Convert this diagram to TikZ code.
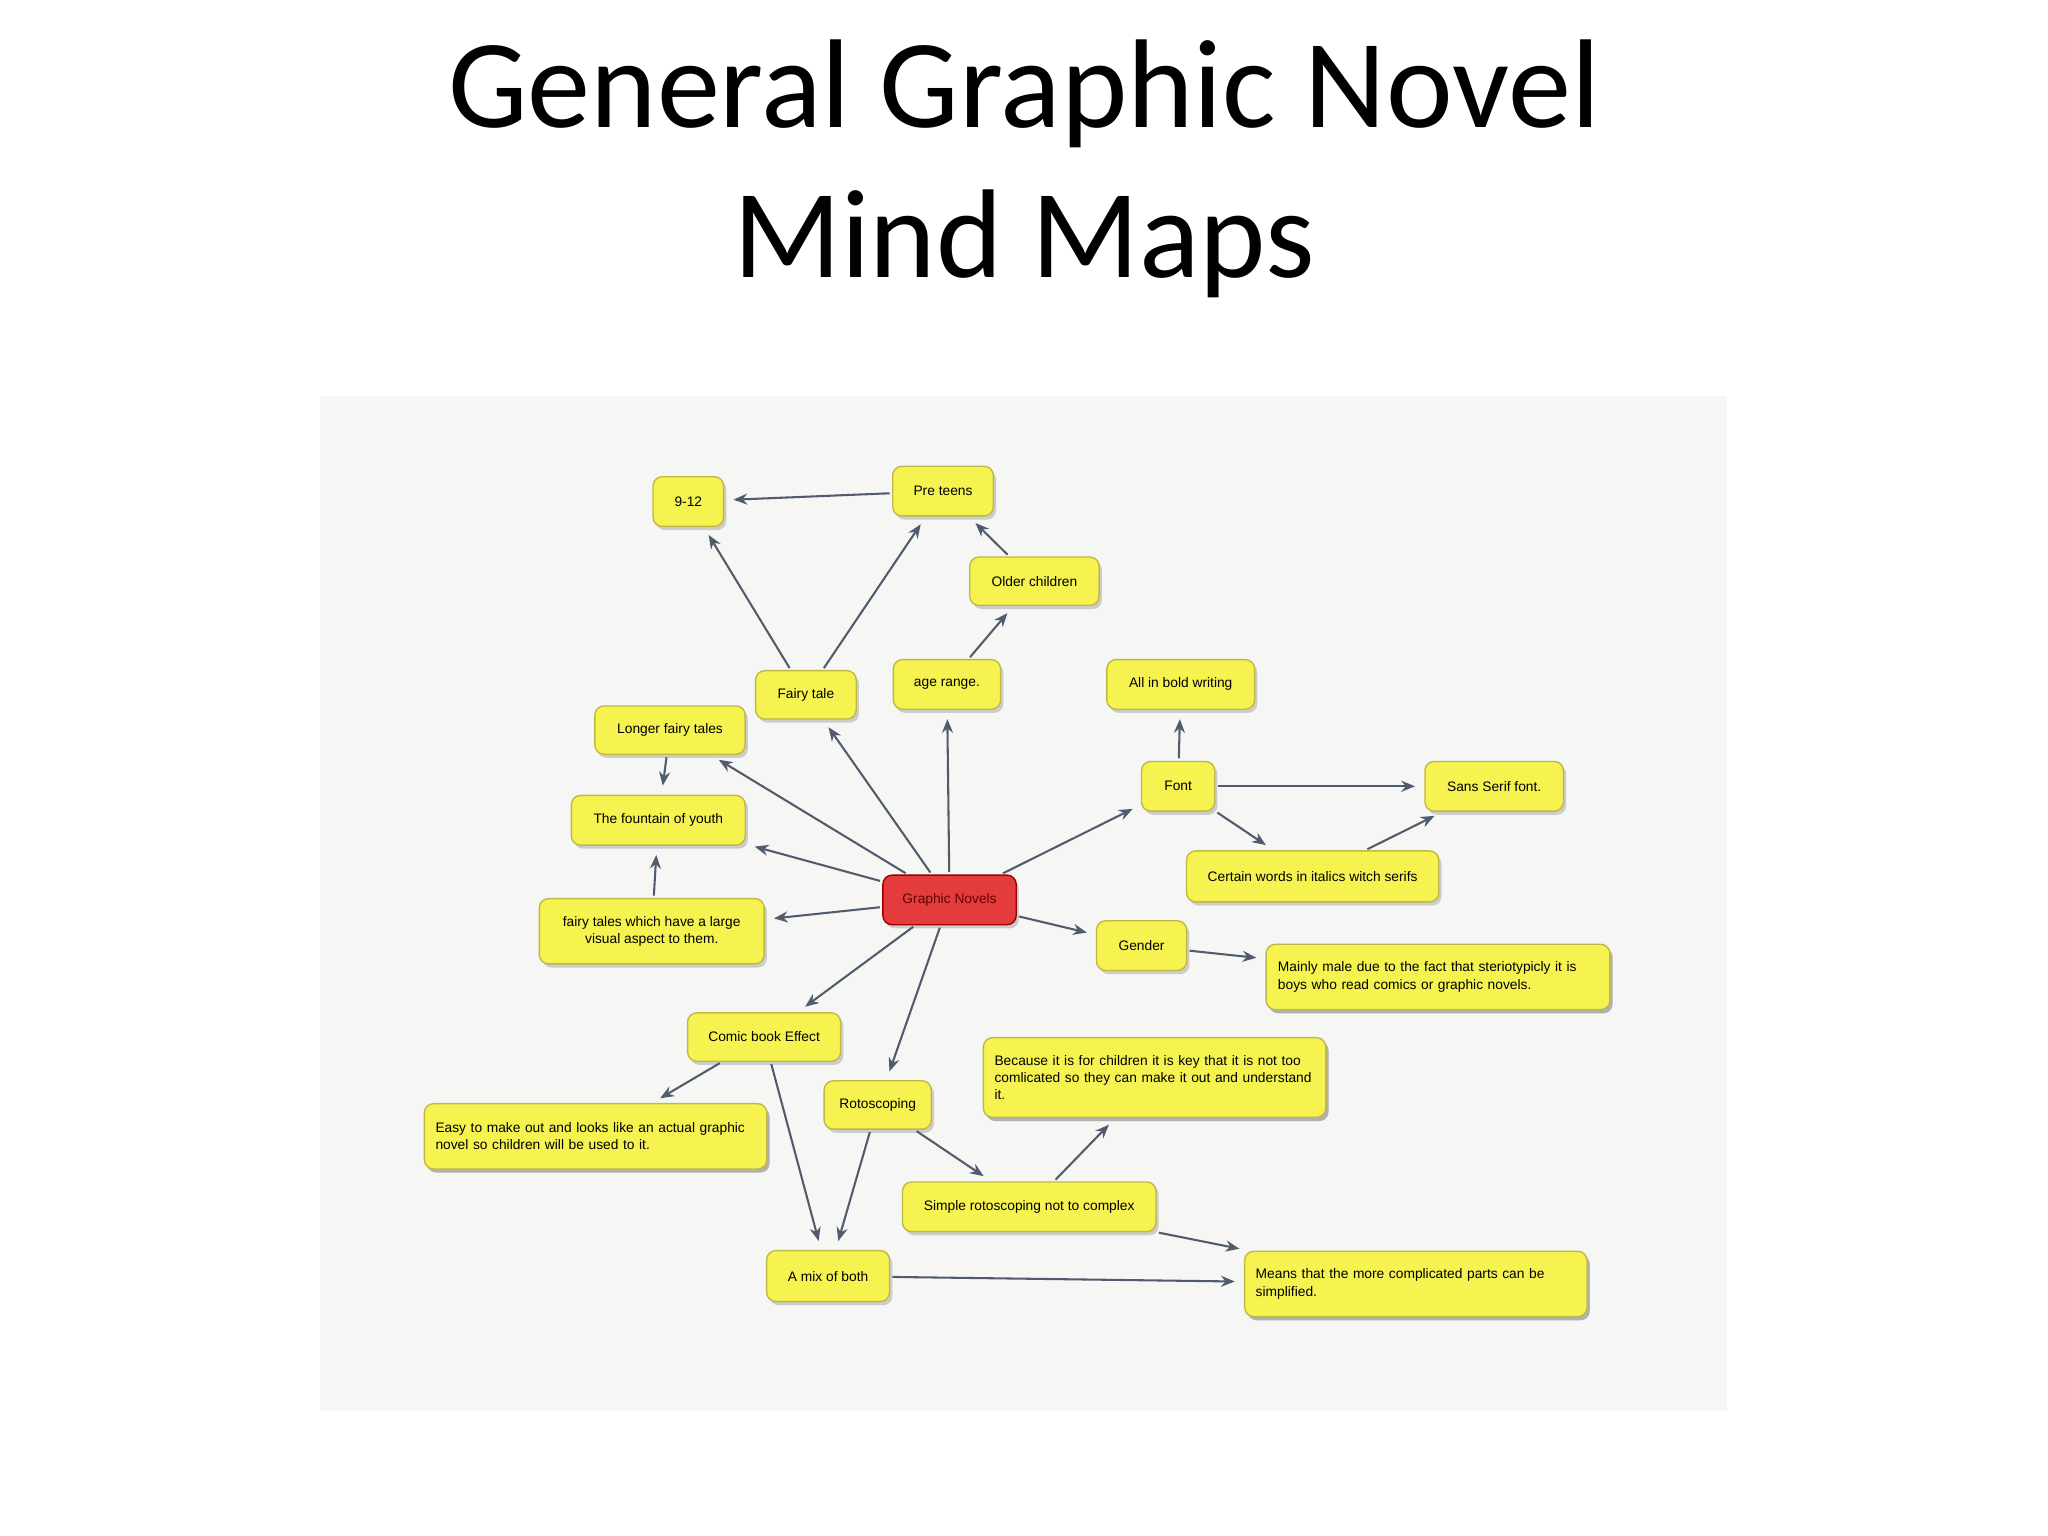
\documentclass[tikz,border=0pt]{standalone}
\usepackage{fontspec}
\setmainfont{Carlito}
\newfontfamily\nodefont{Liberation Sans}
\newcommand\mynodefont{\nodefont\fontsize{3}{3.8}\selectfont\hyphenpenalty=10000\relax}
\usetikzlibrary{arrows.meta,shadows}
\definecolor{boxy}{RGB}{246,243,80}
\definecolor{boxline}{RGB}{190,185,70}
\definecolor{redbox}{RGB}{228,60,60}
\definecolor{edgec}{RGB}{80,92,110}
\definecolor{panel}{RGB}{246,246,244}
\tikzset{
 yb/.style={draw=boxline,line width=0.3pt,rounded corners=2pt,fill=boxy,
   drop shadow={opacity=0.35,shadow xshift=0.6pt,shadow yshift=-0.8pt},
   font=\mynodefont,inner sep=0pt,align=center},
 yt/.style={yb,align=left},
 rb/.style={yb,fill=redbox,draw=red!60!black,text=red!40!black},
 ar/.style={draw=edgec,line width=0.45pt,-{Stealth[length=3pt,width=2.4pt]},shorten >=2pt,shorten <=0.5pt},
}
\begin{document}
\begin{tikzpicture}[x=0.01cm,y=-0.01cm]
\useasboundingbox (0,0) rectangle (1568,1176);
\fill[white] (0,0) rectangle (1568,1176);
\fill[panel] (245,303) rectangle (1322,1080);
\node[font=\fontsize{27.5}{30}\selectfont] (t1) at (784,72) {General Graphic Novel};
\node[font=\fontsize{27.5}{30}\selectfont] (t2) at (784,187) {Mind Maps};

\node[yb,minimum width=0.54cm,minimum height=0.38cm] (n912) at (527,384) {9-12};
\node[yb,minimum width=0.77cm,minimum height=0.38cm] (pre) at (722,376) {Pre teens};
\node[yb,minimum width=0.99cm,minimum height=0.37cm] (old) at (792,445) {Older children};
\node[yb,minimum width=0.82cm,minimum height=0.38cm] (age) at (725,524) {age range.};
\node[yb,minimum width=0.77cm,minimum height=0.37cm] (fairy) at (617,532) {Fairy tale};
\node[yb,minimum width=1.13cm,minimum height=0.38cm] (bold) at (904,524) {All in bold writing};
\node[yb,minimum width=1.15cm,minimum height=0.37cm] (longer) at (513,559) {Longer fairy tales};
\node[yb,minimum width=0.56cm,minimum height=0.38cm] (font) at (902,602) {Font};
\node[yb,minimum width=1.06cm,minimum height=0.38cm] (sans) at (1144,602) {Sans Serif font.};
\node[yb,minimum width=1.33cm,minimum height=0.38cm] (fount) at (504,628) {The fountain of youth};
\node[yb,minimum width=1.93cm,minimum height=0.39cm] (cert) at (1005,671) {Certain words in italics witch serifs};
\node[rb,minimum width=1.02cm,minimum height=0.38cm] (gn) at (727,689) {Graphic Novels};
\node[yb,minimum width=1.72cm,minimum height=0.50cm] (ftw) at (499,713) {fairy tales which have a large\\visual aspect to them.};
\node[yb,minimum width=0.69cm,minimum height=0.38cm] (gender) at (874,724) {Gender};
\node[yb,minimum width=2.63cm,minimum height=0.50cm,text width=2.45cm,yt] (male) at (1101,748) {Mainly male due to the fact that steriotypicly it is\\boys who read comics or graphic novels.};
\node[yb,minimum width=1.17cm,minimum height=0.37cm] (comic) at (585,794) {Comic book Effect};
\node[yb,minimum width=2.62cm,minimum height=0.61cm,text width=2.45cm,yt] (because) at (884,825) {Because it is for children it is key that it is not too\\comlicated so they can make it out and understand\\it.};
\node[yb,minimum width=0.82cm,minimum height=0.37cm] (roto) at (672,846) {Rotoscoping};
\node[yb,minimum width=2.62cm,minimum height=0.50cm,text width=2.45cm,yt] (easy) at (456,870) {Easy to make out and looks like an actual graphic\\novel so children will be used to it.};
\node[yb,minimum width=1.94cm,minimum height=0.38cm] (simple) at (788,924) {Simple rotoscoping not to complex};
\node[yb,minimum width=0.94cm,minimum height=0.39cm] (mix) at (634,977) {A mix of both};
\node[yb,minimum width=2.62cm,minimum height=0.50cm,text width=2.45cm,yt] (means) at (1084,983) {Means that the more complicated parts can be\\simplified.};

\draw[ar] (pre) -- (n912);
\draw[ar] (fairy) -- (n912);
\draw[ar] (fairy) -- (pre);
\draw[ar] (old) -- (pre);
\draw[ar] (age) -- (old);
\draw[ar] (gn) -- (age);
\draw[ar] (gn) -- (fairy);
\draw[ar] (gn) -- (longer);
\draw[ar] (gn) -- (fount);
\draw[ar] (gn) -- (ftw);
\draw[ar] (gn) -- (font);
\draw[ar] (gn) -- (gender);
\draw[ar] (gn) -- (comic);
\draw[ar] (gn) -- (roto);
\draw[ar] (longer) -- (fount);
\draw[ar] (ftw) -- (fount);
\draw[ar] (font) -- (bold);
\draw[ar] (font) -- (sans);
\draw[ar] (font) -- (cert);
\draw[ar] (cert) -- (sans);
\draw[ar] (gender) -- (male);
\draw[ar] (comic) -- (easy);
\draw[ar] (comic) -- (mix);
\draw[ar] (roto) -- (mix);
\draw[ar] (roto) -- (simple);
\draw[ar] (simple) -- (because);
\draw[ar] (simple) -- (means);
\draw[ar] (mix) -- (means);
\end{tikzpicture}
\end{document}
